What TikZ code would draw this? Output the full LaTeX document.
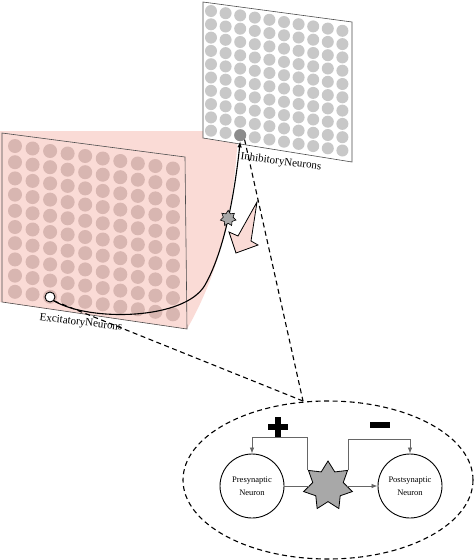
\documentclass[tikz,border=0pt]{standalone}
\usepackage{fontspec}
\setmainfont{Liberation Serif}
\usetikzlibrary{arrows.meta}
\usetikzlibrary{shapes.geometric}
\definecolor{pinkbg}{RGB}{250,219,214}
\definecolor{pinkdot}{RGB}{216,182,177}
\definecolor{graydot}{RGB}{200,200,200}
\definecolor{synfill}{RGB}{168,168,168}

\begin{document}
\begin{tikzpicture}[x=1pt,y=-1pt,
    panel/.style={draw=black!70,line width=0.6pt},
    link/.style={draw=black,line width=1.1pt},
    guide/.style={draw=black,line width=1.1pt,dash pattern=on 5pt off 3.5pt},
    fb/.style={draw=black!60,line width=0.8pt},
    neuron/.style={draw=black,circle,line width=0.9pt,minimum size=64pt,inner sep=0pt,
      align=center,font=\fontsize{8.5}{12.5}\selectfont},
    synapse/.style={draw=black,star,star points=7,star point ratio=1.6,inner sep=0pt,fill=synfill},
    label/.style={font=\fontsize{11}{13}\selectfont}]
  \useasboundingbox (0,0) rectangle (474,560);
  % pink projection behind the excitatory layer
  \fill[pinkbg] (0,131) -- (238,131) .. controls (234,220) and (215,280) .. (187,329) -- (0,302) -- cycle;
  % excitatory layer
  \draw[panel,fill=pinkbg] (2,133) -- (185,157) -- (187,329) -- (2,302) -- cycle;
  \foreach \r in {0,...,9}
    \foreach \c in {0,...,9}
      \fill[pinkdot] ({15+17.55*\c},{146+16.2*\r+2.5*\c}) circle (7);
  % inhibitory layer
  \draw[panel,fill=white] (203,2) -- (352,22) -- (352,162) -- (203,138) -- cycle;
  \foreach \r in {0,...,9}
    \foreach \c in {0,...,9}
      \fill[graydot] ({211+14.6*\c},{11+13.3*\r+2.2*\c}) circle (6);
  \node[circle,fill=black!45,minimum size=12pt,inner sep=0pt] (I) at (240.2,135.2) {};
  \node[circle,draw=black,fill=white,line width=0.9pt,minimum size=10pt,inner sep=0pt] (E) at (50,297) {};
  \node[label,rotate=-7.5] (IL) at (281,162) {InhibitoryNeurons};
  \node[label,rotate=-7] (EL) at (81,323) {ExcitatoryNeurons};
  % pink arrow
  \draw[fill=pinkbg,line width=0.8pt] (257,202) -- (251,241) -- (258,245) -- (236,253) -- (229,232) -- (238,236) -- cycle;
  % connection
  \draw[link,-{Latex[length=6pt]}] (E.south east) .. controls (90,322) and (185,320) .. (205,285)
    .. controls (225,250) and (235,190) .. node[synapse,minimum size=16pt,line width=0.6pt] (s) {} (I.south);
  % zoom lines
  \coordinate (T) at (303,401);
  \draw[guide] (E.south east) -- (T);
  \draw[guide] (I.south east) -- (T);
  \draw[guide] (328,480) ellipse [x radius=145, y radius=79];
  % synapse detail
  \node[neuron] (P) at (252,486) {Presynaptic\\Neuron};
  \node[neuron] (Q) at (410,486) {Postsynaptic\\Neuron};
  \node[synapse,minimum size=50pt,line width=0.8pt] (S) at (328,486) {};
  \draw[fb] (P) -- (S);
  \draw[fb,-{Latex[length=6pt]}] (S) -- (Q);
  \draw[fb,-{Latex[length=6pt]}] (S.outer point 2) -- ++(0,-33) -| (P.north);
  \draw[fb,-{Latex[length=6pt]}] (S.outer point 7) -- ++(0,-31) -| (Q.north);
  \fill (268,424) rectangle (288,430);
  \fill (275,417) rectangle (281,437);
  \fill (370,422) rectangle (390,428);
\end{tikzpicture}
\end{document}
